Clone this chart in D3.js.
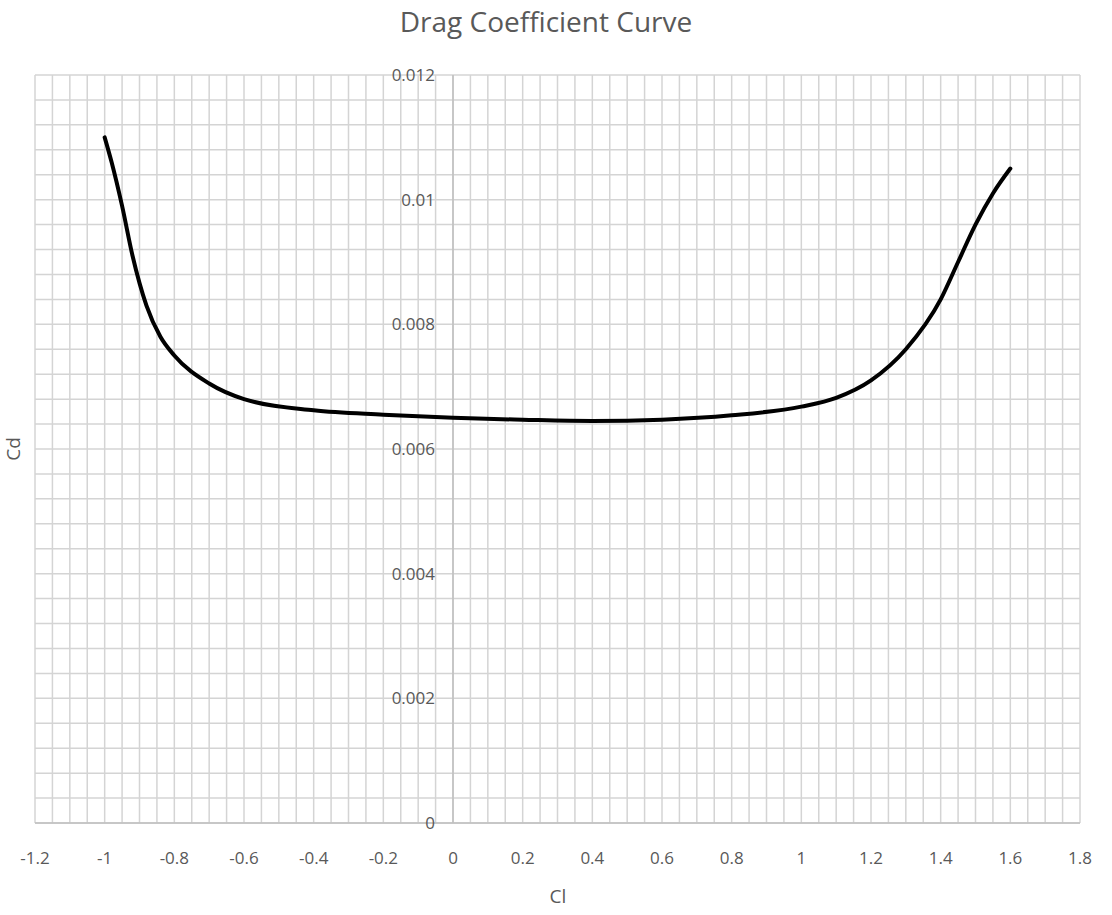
<!DOCTYPE html>
<html><head><meta charset="utf-8">
<script src="https://cdn.jsdelivr.net/npm/d3@7"></script>
<style>body{margin:0;background:#fff;font-family:"Open Sans",sans-serif;}</style>
</head><body><div id="chart"></div>
<script>
// curve
let cl = [-1, -0.98, -0.95, -0.92, -0.88, -0.84, -0.8, -0.7, -0.6, -0.4, -0.2, 0, 0.2, 0.4, 0.6, 0.8, 1, 1.1, 1.2, 1.3, 1.4, 1.45, 1.5, 1.55, 1.6]
let cd = [0.0110, 0.0106, 0.0099, 0.0091, 0.0083, 0.0078, 0.0075, 0.00705, 0.0068, 0.00662, 0.00655, 0.0065, 0.00647, 0.00645, 0.00647, 0.00654, 0.00668, 0.00682, 0.0071, 0.0076, 0.0084, 0.0090, 0.0096, 0.0101, 0.0105]
let xTicks = [-1.2, -1, -0.8, -0.6, -0.4, -0.2, 0, 0.2, 0.4, 0.6, 0.8, 1, 1.2, 1.4, 1.6, 1.8]
let yTicks = [0, 0.002, 0.004, 0.006, 0.008, 0.01, 0.012]

let W = 1112, H = 915
let svg = d3.select("#chart").append("svg").attr("width", W).attr("height", H)
let x = d3.scaleLinear().domain([-1.2, 1.8]).range([35, 1080])
let y = d3.scaleLinear().domain([0, 0.012]).range([823, 75])

// minor grid
let g = svg.append("g")
g.selectAll(".vx").data(d3.range(0, 61).map(i => -1.2 + i * 0.05)).enter().append("line")
    .attr("x1", d => x(d)).attr("x2", d => x(d)).attr("y1", y(0)).attr("y2", y(0.012))
    .attr("stroke", "#d4d4d4").attr("stroke-width", 1.5)
g.selectAll(".hy").data(d3.range(0, 31).map(i => i * 0.0004)).enter().append("line")
    .attr("y1", d => y(d)).attr("y2", d => y(d)).attr("x1", x(-1.2)).attr("x2", x(1.8))
    .attr("stroke", "#d4d4d4").attr("stroke-width", 1.5)

// axis lines
svg.append("line").attr("x1", x(0)).attr("x2", x(0)).attr("y1", y(0)).attr("y2", y(0.012)).attr("stroke", "#bfbfbf").attr("stroke-width", 1.5)
svg.append("line").attr("x1", x(-1.2)).attr("x2", x(1.8)).attr("y1", y(0)).attr("y2", y(0)).attr("stroke", "#bfbfbf").attr("stroke-width", 1.5)

// tick labels
svg.selectAll(".xt").data(xTicks).enter().append("text")
    .attr("x", d => x(d)).attr("y", 864).attr("text-anchor", "middle")
    .attr("font-size", 17).attr("fill", "#595959").text(d => d)
svg.selectAll(".yt").data(yTicks).enter().append("text")
    .attr("x", x(0) - 18).attr("y", d => y(d) + 6).attr("text-anchor", "end")
    .attr("font-size", 17).attr("fill", "#595959").text(d => d)

// curve
let line = d3.line().x((d, i) => x(cl[i])).y(d => y(d)).curve(d3.curveMonotoneX)
svg.append("path").datum(cd).attr("d", line).attr("fill", "none")
    .attr("stroke", "#000").attr("stroke-width", 4).attr("stroke-linecap", "round")

svg.append("text").attr("x", 546).attr("y", 32).attr("text-anchor", "middle")
    .attr("font-size", 28).attr("fill", "#595959").text("Drag Coefficient Curve")
svg.append("text").attr("x", 558).attr("y", 903).attr("text-anchor", "middle")
    .attr("font-size", 19).attr("fill", "#595959").text("Cl")
svg.append("text").attr("transform", "translate(20,449) rotate(-90)").attr("text-anchor", "middle")
    .attr("font-size", 19).attr("fill", "#595959").text("Cd")
</script></body></html>
